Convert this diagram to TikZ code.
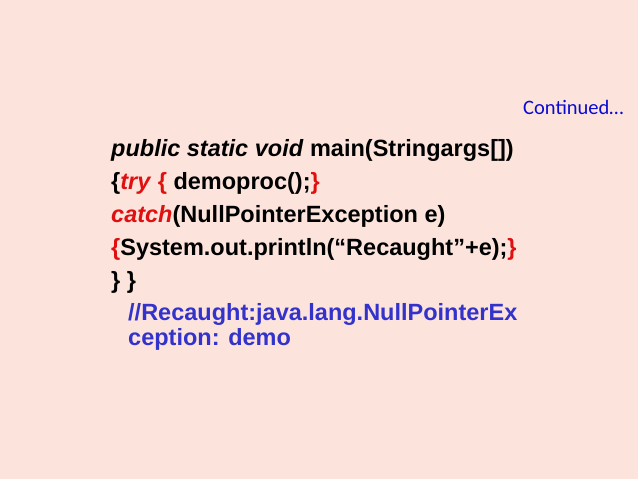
\documentclass[tikz,border=0pt]{standalone}
\usepackage{fontspec}
\setmainfont{Liberation Sans}
\newfontfamily\carlitofont{Carlito}
\definecolor{bg}{HTML}{FCE4DC}
\definecolor{rd}{HTML}{E01010}
\definecolor{bl}{HTML}{3333CC}
\definecolor{cb}{HTML}{0B0BD0}
\begin{document}
\begin{tikzpicture}[x=1pt,y=-1pt,
  code/.style={anchor=base west,inner sep=0pt,font=\fontsize{23.5}{26}\selectfont\bfseries}]
\fill[bg] (0,0) rectangle (638,479);
\node[anchor=base west,inner sep=0pt,font=\carlitofont\fontsize{20.5}{22}\selectfont,text=cb] (cont) at (523,114) {Continued…};
\node[code] (l1) at (111,156) {\textit{public static void} main(Stringargs[])};
\node[code] (l2) at (111,189) {\{\textcolor{rd}{\textit{try} \{} demoproc();\textcolor{rd}{\}}};
\node[code] (l3) at (111,222) {\textcolor{rd}{\textit{catch}}(NullPointerException e)};
\node[code] (l4) at (111,255) {\textcolor{rd}{\{}System.out.println(“Recaught”+e);\textcolor{rd}{\}}};
\node[code] (l5) at (111,288) {\} \}};
\node[code,text=bl] (c1) at (128,320) {//Recaught:java.lang.NullPointerEx};
\node[code,text=bl] (c2) at (128,345) {ception: demo};
\end{tikzpicture}
\end{document}
